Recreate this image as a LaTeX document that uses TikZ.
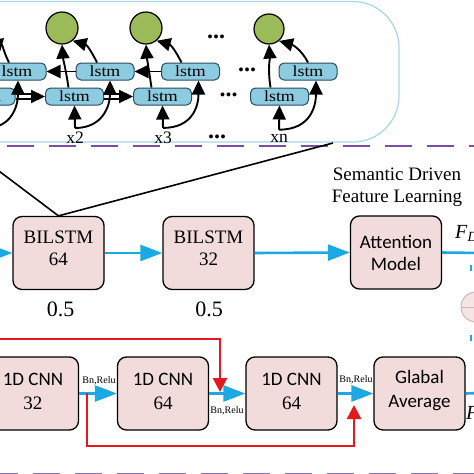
\documentclass[tikz,border=0pt]{standalone}
\usepackage{fontspec}
\setmainfont{Liberation Serif}
\newfontfamily\carlito{Carlito}
\newfontfamily\lstmfont[FakeStretch=1.15]{Liberation Serif}
\usetikzlibrary{arrows.meta}
\definecolor{pinkc}{HTML}{F2DCDB}
\definecolor{lstmc}{HTML}{8DCBE0}
\definecolor{lstmb}{HTML}{2B4B5E}
\definecolor{greenc}{HTML}{9BBB59}
\definecolor{bluec}{HTML}{1BA9E4}
\definecolor{redc}{HTML}{E5171F}
\definecolor{purpc}{HTML}{7A4EA6}
\definecolor{purpb}{HTML}{8F6EB8}
\definecolor{boxc}{HTML}{A9D6E2}
\definecolor{sumc}{HTML}{F6E3E3}
\definecolor{sumb}{HTML}{CDB8BC}
\begin{document}
\begin{tikzpicture}[x=1pt,y=-1pt,
  pinkbox/.style={draw=black,line width=1.3pt,fill=pinkc,rounded corners=9pt,minimum width=91pt,minimum height=73pt,inner sep=0pt,align=center,font=\fontsize{19}{22}\selectfont},
  lstmbox/.style={draw=lstmb,line width=1pt,fill=lstmc,rounded corners=5pt,minimum width=58pt,minimum height=17pt,inner sep=0pt,font=\lstmfont\fontsize{15.5}{15.5}\selectfont},
  outc/.style={circle,draw=black,line width=1.2pt,fill=greenc,minimum size=32pt,inner sep=0pt},
  blarr/.style={draw=bluec,line width=2.6pt,-{Triangle[length=22pt,width=16pt]}},
  blline/.style={draw=bluec,line width=2.6pt},
  blkarr/.style={draw=black,line width=1.9pt,-{Triangle[length=14pt,width=13pt]}},
  blkline/.style={draw=black,line width=1.9pt},
  redarr/.style={draw=redc,line width=2.3pt,-{Triangle[length=14pt,width=14pt]}},
  inlbl/.style={inner sep=0pt,font=\fontsize{17.5}{17.5}\selectfont},
  dotslbl/.style={inner sep=0pt,font=\fontsize{24}{24}\selectfont\bfseries,anchor=base},
  bnlbl/.style={inner sep=0pt,font=\fontsize{10}{10}\selectfont,anchor=base},
]
\useasboundingbox (0,0) rectangle (474,474);
\clip (0,0) rectangle (474,474);
\fill[white] (0,0) rectangle (474,474);

% ---------- expanded BiLSTM panel ----------
\draw[draw=boxc,line width=1.2pt,rounded corners=46pt] (-80,1.5) rectangle (399,142);
\draw[purpc,line width=2.5pt,dash pattern=on 27pt off 15pt] (7,146) -- (480,146);

\node[outc] (c0) at (-22,28) {};
\node[outc] (c1) at (62,28) {};
\node[outc] (c2) at (146,28) {};
\node[outc,minimum size=30pt] (c3) at (269,29) {};

\node[lstmbox] (tb1) at (17,71.5) {lstm};
\node[lstmbox] (tb2) at (105,71.5) {lstm};
\node[lstmbox] (tb3) at (190.5,71.5) {lstm};
\node[lstmbox] (tb4) at (308,71.5) {lstm};
\node[lstmbox] (bb1) at (-14,96.5) {lstm};
\node[lstmbox] (bb2) at (74.5,96.5) {lstm};
\node[lstmbox] (bb3) at (162.5,96.5) {lstm};
\node[lstmbox] (bb4) at (279.5,96.5) {lstm};

\coordinate (in1) at (-14,128);
\node[inlbl] (in2) at (75,138) {x2};
\node[inlbl] (in3) at (163,138) {x3};
\node[inlbl] (inn) at (279,138) {xn};

\node[dotslbl] (dt1) at (216,38.6) {...};
\node[dotslbl] (dt2) at (247,71.6) {...};
\node[dotslbl] (dt3) at (228.5,96.6) {...};
\node[dotslbl] (dt4) at (217,138.6) {...};

% forward (double) arrows
\draw[blkline] ([yshift=2.3pt]bb1.east) -- ([yshift=2.3pt,xshift=-6pt]bb2.west)
               ([yshift=-2.3pt]bb1.east) -- ([yshift=-2.3pt,xshift=-6pt]bb2.west);
\draw[blkarr] ([xshift=-9pt]bb2.west) -- (bb2.west);
\draw[blkline] ([yshift=2.3pt]bb2.east) -- ([yshift=2.3pt,xshift=-6pt]bb3.west)
               ([yshift=-2.3pt]bb2.east) -- ([yshift=-2.3pt,xshift=-6pt]bb3.west);
\draw[blkarr] ([xshift=-9pt]bb3.west) -- (bb3.west);
% backward arrows
\draw[blkarr] (tb2.west) -- (tb1.east);
\draw[blkarr] (tb3.west) -- (tb2.east);

% inputs
\draw[blkarr] (in1) -- (bb1.south);
\draw[blkarr] (in1) .. controls +(26,0) and +(0,25) .. ([xshift=1pt]tb1.south);
\draw[blkarr] ([yshift=4pt]in2.north) -- (bb2.south);
\draw[blkarr] ([yshift=4pt]in2.north) .. controls +(28,0) and +(0,25) .. ([xshift=5pt]tb2.south);
\draw[blkarr] ([yshift=4pt]in3.north) -- (bb3.south);
\draw[blkarr] ([yshift=4pt]in3.north) .. controls +(30,0) and +(0,25) .. ([xshift=8pt]tb3.south);
\draw[blkarr] ([yshift=4pt]inn.north) -- (bb4.south);
\draw[blkarr] ([yshift=4pt]inn.north) .. controls +(32,0) and +(0,25) .. ([xshift=8pt]tb4.south);

% outputs
\draw[blkarr] ([xshift=-6pt]bb1.north) .. controls +(-3,-20) and +(1,14) .. (c0.south);
\draw[blkarr] ([xshift=-8pt]tb1.north) .. controls +(-6,-12) and +(14,4) .. (c0.-50);
\draw[blkarr] ([xshift=-6pt]bb2.north) .. controls +(-3,-20) and +(1,14) .. (c1.south);
\draw[blkarr] ([xshift=-8pt]tb2.north) .. controls +(-6,-12) and +(14,4) .. (c1.-50);
\draw[blkarr] ([xshift=-11pt]bb3.north) .. controls +(-3,-20) and +(1,14) .. (c2.south);
\draw[blkarr] ([xshift=-9pt]tb3.north) .. controls +(-6,-12) and +(14,4) .. (c2.-50);
\draw[blkarr] ([xshift=-9pt]bb4.north) .. controls +(-3,-20) and +(1,14) .. (c3.south);
\draw[blkarr] (tb4.north) .. controls +(-6,-12) and +(14,4) .. (c3.-50);

% ---------- main pipeline ----------
\node[pinkbox,text depth=8.6pt] (bil64) at (58.5,253) {BILSTM\\64};
\node[pinkbox,text depth=8.6pt] (bil32) at (208.5,253) {BILSTM\\32};
\node[pinkbox,text depth=0pt,font=\carlito\fontsize{19}{22}\selectfont] (att) at (396,252.5) {Attention\\Model};

\coordinate (zl) at (-40,141.7);
\coordinate (zr) at (333,143);
\draw[blkline,line width=1.6pt] (bil64.north) -- (zl);
\draw[blkline,line width=1.6pt] (bil64.north) -- (zr);

\node[inner sep=0pt,font=\fontsize{22}{22}\selectfont] (d1) at (60.7,309) {0.5};
\node[inner sep=0pt,font=\fontsize{22}{22}\selectfont] (d2) at (209,309) {0.5};
\node[inner sep=0pt,align=center,font=\fontsize{19}{22}\selectfont] (sem) at (397,186.8) {Semantic Driven\\Feature Learning};

\coordinate (inL) at (-5,253);
\coordinate (outR) at (480,253);
\draw[blarr] (inL) -- (bil64.west);
\draw[blarr] (bil64.east) -- (bil32.west);
\draw[blarr] (bil32.east) -- (att.west);
\draw[blline] (att.east) -- (outR);

\node[anchor=base west,inner sep=0pt,font=\fontsize{20}{20}\selectfont] (fd) at (455,238) {\textit{F}\textsubscript{\textit{D}}};

% fusion symbol at the right edge
\draw[bluec,line width=2pt] (471,265) -- (471,271);
\draw[bluec,line width=2pt] (471,335) -- (471,341);
\node[circle,draw=sumb,fill=sumc,line width=1pt,minimum size=30pt,inner sep=0pt] (sum) at (476,307) {};
\draw[sumb,line width=1pt] (sum.west) -- (sum.east) (sum.north) -- (sum.south);

% CNN row
\node[pinkbox,text depth=5.2pt,font=\fontsize{19}{24}\selectfont] (cnn32) at (33,393.5) {{\carlito 1D CNN}\\32};
\node[pinkbox,text depth=5.2pt,font=\fontsize{19}{24}\selectfont] (cnn64a) at (163,393.5) {{\carlito 1D CNN}\\64};
\node[pinkbox,text depth=5.2pt,font=\fontsize{19}{24}\selectfont] (cnn64b) at (291.5,393.5) {{\carlito 1D CNN}\\64};
\node[pinkbox,text depth=9.7pt,font=\carlito\fontsize{19}{24}\selectfont] (gap) at (419.5,393.5) {Glabal\\Average};

\coordinate (outR2) at (480,393);
\draw[blarr] (cnn32.east) -- (cnn64a.west);
\draw[blarr] (cnn64a.east) -- (cnn64b.west);
\draw[blarr] (cnn64b.east) -- (gap.west);
\draw[blline] (gap.east) -- (outR2);

\node[bnlbl] (bn1) at (99,383) {Bn,Relu};
\node[bnlbl] (bn2) at (227,413) {Bn,Relu};
\node[bnlbl] (bn3) at (356,382) {Bn,Relu};

\node[anchor=base west,inner sep=0pt,font=\fontsize{20}{20}\selectfont] (fa) at (466,419) {\textit{F}};

% residual connections
\coordinate (r1s) at (-5,339);
\coordinate (r1e) at (220,392);
\draw[redarr] (r1s) -| (r1e);
\coordinate (r2s) at (87,393);
\coordinate (r2b) at (220,446);
\coordinate (r2e) at (354,405);
\draw[redarr] (r2s) |- (r2b) -| (r2e);

% bottom dashed separator
\draw[purpb,line width=5pt,dash pattern=on 27pt off 15pt] (-9,475) -- (480,475);
\end{tikzpicture}
\end{document}
